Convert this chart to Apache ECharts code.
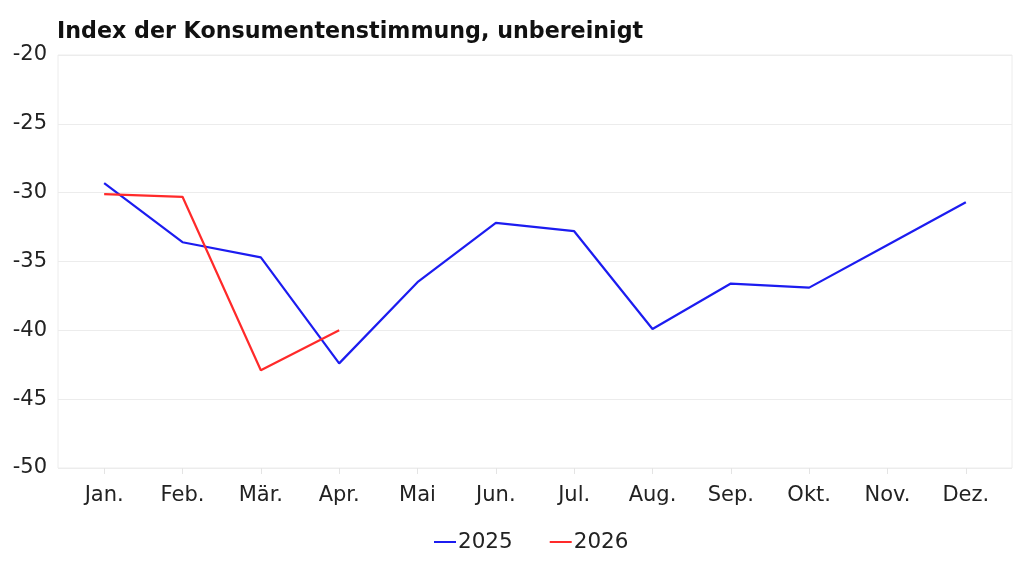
<!DOCTYPE html>
<html>
<head>
<meta charset="utf-8">
<script src="https://cdn.jsdelivr.net/npm/echarts@6/dist/echarts.min.js"></script>
<style>
  html, body { margin: 0; padding: 0; background: #fff; }
  #chart { width: 1024px; height: 576px; }
</style>
</head>
<body>
<div id="chart"></div>
<script>
  const months = ['Jan.', 'Feb.', 'Mär.', 'Apr.', 'Mai', 'Jun.', 'Jul.', 'Aug.', 'Sep.', 'Okt.', 'Nov.', 'Dez.'];
  const values2025 = [-29.3, -33.6, -34.7, -42.4, -36.5, -32.2, -32.8, -39.9, -36.6, -36.9, -33.8, -30.7];
  const values2026 = [-30.1, -30.3, -42.9, -40.0];
  const yTicks = { min: -50, max: -20, step: 5 };

  const font = 'DejaVu Sans';
  const chart = echarts.init(document.getElementById('chart'));

  const option = {
    animation: false,
    backgroundColor: '#fff',
    title: {
      text: 'Index der Konsumentenstimmung, unbereinigt',
      left: 52,
      top: 16,
      textStyle: { fontFamily: font, fontSize: 22.2, fontWeight: 'bold', color: '#111' }
    },
    legend: {
      top: 526,
      left: 429,
      itemWidth: 22,
      itemHeight: 2,
      itemGap: 37,
      icon: 'rect',
      textStyle: { fontFamily: font, fontSize: 21.5, color: '#222', padding: [0, 0, 0, -3] },
      data: ['2025', '2026']
    },
    grid: [
      // frame with the horizontal grid lines
      { left: 58, right: 12, top: 55, bottom: 108, show: true, borderColor: '#ececec', borderWidth: 1 },
      // inner area where the months sit
      { left: 65, right: 19, top: 55, bottom: 108 }
    ],
    xAxis: [
      { gridIndex: 0, type: 'category', data: months, show: false },
      {
        gridIndex: 1,
        type: 'category',
        data: months,
        boundaryGap: true,
        axisLine: { show: false },
        axisTick: { show: true, alignWithLabel: true, length: 6, lineStyle: { color: '#e4e4e4' } },
        axisLabel: { fontFamily: font, fontSize: 21, color: '#222', margin: 17 }
      }
    ],
    yAxis: [
      {
        gridIndex: 0,
        type: 'value',
        min: yTicks.min,
        max: yTicks.max,
        interval: yTicks.step,
        axisLine: { show: false },
        axisTick: { show: false },
        axisLabel: { fontFamily: font, fontSize: 21, color: '#222', margin: 11 },
        splitLine: { lineStyle: { color: '#ececec' } }
      },
      {
        gridIndex: 1,
        type: 'value',
        min: yTicks.min,
        max: yTicks.max,
        interval: yTicks.step,
        show: false,
        splitLine: { show: false }
      }
    ],
    series: [
      {
        name: '2025',
        type: 'line',
        xAxisIndex: 1,
        yAxisIndex: 1,
        data: values2025,
        showSymbol: false,
        symbol: 'none',
        color: '#1c1cf0',
        lineStyle: { width: 2.2, color: '#1c1cf0' }
      },
      {
        name: '2026',
        type: 'line',
        xAxisIndex: 1,
        yAxisIndex: 1,
        data: values2026,
        showSymbol: false,
        symbol: 'none',
        color: '#ff2a2a',
        lineStyle: { width: 2.2, color: '#ff2a2a' }
      }
    ]
  };

  chart.setOption(option);
</script>
</body>
</html>
